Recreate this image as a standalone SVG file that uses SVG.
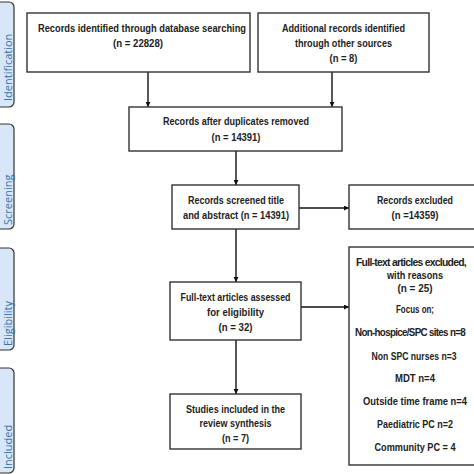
<svg xmlns="http://www.w3.org/2000/svg" width="474" height="474" viewBox="0 0 474 474">
<style>
.box{fill:#fff;stroke:#333;stroke-width:1.4}
.t{font-family:"Liberation Sans",Arial,sans-serif;font-size:10px;font-weight:bold;fill:#222;text-anchor:middle}
.s{letter-spacing:-0.7px}
.side{fill:#d8e7f7;stroke:#333;stroke-width:1.2}
.st{font-family:"Open Sans","Liberation Sans",sans-serif;font-size:11px;fill:#3572b0;text-anchor:start}
.c{stroke:#111;stroke-width:1.4;fill:none;marker-end:url(#ah)}
</style>
<defs>
<marker id="ah" viewBox="0 0 10 10" refX="10" refY="5" markerWidth="5" markerHeight="5" orient="auto" markerUnits="userSpaceOnUse">
<path d="M0,0 L10,5 L0,10 z" fill="#111"/>
</marker>
</defs>
<rect width="474" height="474" fill="#fff"/>
<g id="phases">
<rect class="side" x="-12" y="2" width="26" height="105" rx="5"/>
<text class="st" transform="translate(12,101) rotate(-90)">Identification</text>
<rect class="side" x="-12" y="124" width="26" height="105" rx="5"/>
<text class="st" transform="translate(12,225) rotate(-90)">Screening</text>
<rect class="side" x="-12" y="248" width="26" height="102" rx="5"/>
<text class="st" transform="translate(12,346) rotate(-90)">Eligibility</text>
<rect class="side" x="-12" y="368" width="26" height="105" rx="5"/>
<text class="st" transform="translate(12,469) rotate(-90)">Included</text>
</g>
<g id="connectors">
<line class="c" x1="148" y1="72" x2="148" y2="107"/>
<line class="c" x1="332" y1="72" x2="332" y2="107"/>
<line class="c" x1="236" y1="151" x2="236" y2="185"/>
<line class="c" x1="299" y1="208" x2="349" y2="208"/>
<line class="c" x1="236" y1="229" x2="236" y2="282"/>
<line class="c" x1="301" y1="307" x2="349" y2="307"/>
<line class="c" x1="236" y1="340" x2="236" y2="394"/>
</g>
<g id="n1">
<rect class="box" x="27" y="13" width="223" height="59"/>
<text class="t" x="142" y="32" textLength="208" lengthAdjust="spacingAndGlyphs">Records identified through database searching</text>
<text class="t" x="138" y="47" textLength="50" lengthAdjust="spacingAndGlyphs">(n = 22828)</text>
</g>
<g id="n2">
<rect class="box" x="258" y="13" width="171" height="59"/>
<text class="t" x="343.5" y="32" textLength="123" lengthAdjust="spacingAndGlyphs">Additional records identified</text>
<text class="t" x="343.5" y="47" textLength="97" lengthAdjust="spacingAndGlyphs">through other sources</text>
<text class="t" x="343.5" y="62" textLength="28" lengthAdjust="spacingAndGlyphs">(n = 8)</text>
</g>
<g id="n3">
<rect class="box" x="129" y="107" width="213" height="44"/>
<text class="t" x="236" y="125" textLength="146" lengthAdjust="spacingAndGlyphs">Records after duplicates removed</text>
<text class="t" x="236" y="141" textLength="49" lengthAdjust="spacingAndGlyphs">(n = 14391)</text>
</g>
<g id="n4">
<rect class="box" x="172" y="185" width="127" height="44"/>
<text class="t" x="236" y="204" textLength="96" lengthAdjust="spacingAndGlyphs">Records screened title</text>
<text class="t" x="236" y="219" textLength="106" lengthAdjust="spacingAndGlyphs">and abstract (n = 14391)</text>
</g>
<g id="n5">
<rect class="box" x="349" y="185" width="127" height="44"/>
<text class="t" x="415" y="204" textLength="76" lengthAdjust="spacingAndGlyphs">Records excluded</text>
<text class="t" x="415" y="219" textLength="47" lengthAdjust="spacingAndGlyphs">(n =14359)</text>
</g>
<g id="n6">
<rect class="box" x="170" y="282" width="131" height="58"/>
<text class="t" x="235.5" y="301" textLength="110" lengthAdjust="spacingAndGlyphs">Full-text articles assessed</text>
<text class="t" x="235.5" y="316" textLength="57" lengthAdjust="spacingAndGlyphs">for eligibility</text>
<text class="t" x="235.5" y="331" textLength="34" lengthAdjust="spacingAndGlyphs">(n = 32)</text>
</g>
<g id="n7">
<rect class="box" x="349" y="247" width="127" height="218"/>
<text class="t s" x="411" y="266" textLength="110" lengthAdjust="spacingAndGlyphs">Full-text articles excluded,</text>
<text class="t" x="415" y="279" textLength="56" lengthAdjust="spacingAndGlyphs">with reasons</text>
<text class="t" x="415" y="292" textLength="35" lengthAdjust="spacingAndGlyphs">(n = 25)</text>
<text class="t" x="415" y="313" textLength="38" lengthAdjust="spacingAndGlyphs">Focus on;</text>
<text class="t s" x="410" y="336" textLength="110" lengthAdjust="spacingAndGlyphs">Non-hospice/SPC sites n=8</text>
<text class="t" x="414" y="360" textLength="85" lengthAdjust="spacingAndGlyphs">Non SPC nurses n=3</text>
<text class="t" x="415" y="382" textLength="40" lengthAdjust="spacingAndGlyphs">MDT n=4</text>
<text class="t" x="415" y="405" textLength="104" lengthAdjust="spacingAndGlyphs">Outside time frame n=4</text>
<text class="t" x="415" y="428" textLength="76" lengthAdjust="spacingAndGlyphs">Paediatric PC n=2</text>
<text class="t" x="415" y="451" textLength="81" lengthAdjust="spacingAndGlyphs">Community PC = 4</text>
</g>
<g id="n8">
<rect class="box" x="170" y="394" width="131" height="55"/>
<text class="t" x="235.5" y="413" textLength="99" lengthAdjust="spacingAndGlyphs">Studies included in the</text>
<text class="t" x="235.5" y="427" textLength="72" lengthAdjust="spacingAndGlyphs">review synthesis</text>
<text class="t" x="235.5" y="442" textLength="27" lengthAdjust="spacingAndGlyphs">(n = 7)</text>
</g>
</svg>
